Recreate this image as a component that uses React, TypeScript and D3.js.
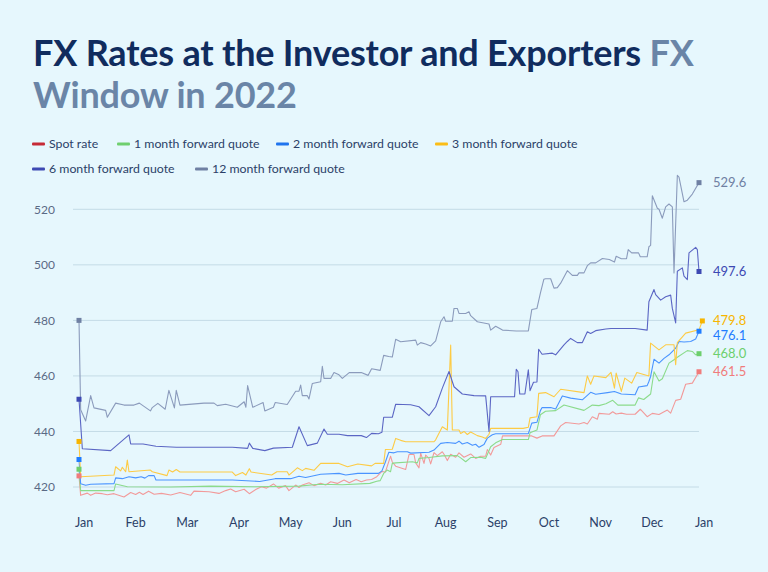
import React from "react";
import * as d3 from "d3";

type Pt = [string, number];

// FX rates (NGN/USD) by quote tenor
const spotRate: Pt[] = [
  ["2021-12-29", 424], ["2021-12-30", 417], ["2022-01-03", 417.8], ["2022-01-05", 417], ["2022-01-08", 417.8],
  ["2022-01-12", 417.6], ["2022-01-15", 417.2], ["2022-01-19", 417.6], ["2022-01-25", 416.4], ["2022-01-29", 418],
  ["2022-02-01", 417.3], ["2022-02-03", 418.1], ["2022-02-05", 417.3], ["2022-02-08", 418.5], ["2022-02-11", 417.4],
  ["2022-02-15", 417.7], ["2022-02-20", 417.1], ["2022-02-25", 418], ["2022-03-03", 417], ["2022-03-05", 418.5],
  ["2022-03-14", 418.3], ["2022-03-20", 417.7], ["2022-03-24", 418.7], ["2022-03-27", 419.3], ["2022-03-30", 418.3],
  ["2022-04-04", 419.2], ["2022-04-07", 417.6], ["2022-04-11", 419.2], ["2022-04-14", 420.1], ["2022-04-17", 419.6],
  ["2022-04-21", 421.1], ["2022-04-24", 419.6], ["2022-04-28", 420.5], ["2022-04-30", 418.7], ["2022-05-04", 420.7],
  ["2022-05-06", 419.8], ["2022-05-08", 420.7], ["2022-05-12", 421.5], ["2022-05-15", 420.5], ["2022-05-19", 421.3],
  ["2022-05-22", 420.7], ["2022-05-25", 421.9], ["2022-05-29", 421.3], ["2022-06-02", 422.5], ["2022-06-05", 421.5],
  ["2022-06-09", 422.7], ["2022-06-12", 421.9], ["2022-06-15", 422.5], ["2022-06-18", 422.7], ["2022-06-21", 423.7],
  ["2022-06-24", 425.6], ["2022-06-26", 425.4], ["2022-06-29", 431.1], ["2022-06-30", 429], ["2022-07-02", 427.5],
  ["2022-07-08", 426.3], ["2022-07-10", 431.7], ["2022-07-13", 431.7], ["2022-07-14", 428.7], ["2022-07-16", 426.9],
  ["2022-07-17", 432.2], ["2022-07-19", 428.5], ["2022-07-20", 431.5], ["2022-07-22", 430.3], ["2022-07-23", 428.3],
  ["2022-07-25", 432.4], ["2022-07-27", 431.3], ["2022-07-30", 432.7], ["2022-07-31", 431.8], ["2022-08-02", 429.5],
  ["2022-08-04", 431.8], ["2022-08-07", 430.7], ["2022-08-09", 432.3], ["2022-08-12", 430.7], ["2022-08-16", 431.9],
  ["2022-08-19", 430.3], ["2022-08-22", 431.1], ["2022-08-25", 431.1], ["2022-08-26", 433.5], ["2022-08-28", 431.5],
  ["2022-08-30", 434.2], ["2022-09-03", 435.4], ["2022-09-04", 438.4], ["2022-09-21", 438.4], ["2022-09-24", 437.6],
  ["2022-09-27", 438.4], ["2022-10-04", 438.4], ["2022-10-08", 442], ["2022-10-11", 443.2], ["2022-10-19", 442.7],
  ["2022-10-22", 443.2], ["2022-10-24", 442.7], ["2022-10-27", 445.3], ["2022-10-30", 444.4], ["2022-10-31", 446.5],
  ["2022-11-06", 446.2], ["2022-11-08", 447.1], ["2022-11-10", 446.3], ["2022-11-13", 446.6], ["2022-11-16", 446.2],
  ["2022-11-21", 446.2], ["2022-11-24", 448], ["2022-11-28", 445.3], ["2022-12-01", 446.5], ["2022-12-05", 446.1],
  ["2022-12-10", 447.7], ["2022-12-12", 446.6], ["2022-12-15", 451.2], ["2022-12-18", 451.6], ["2022-12-21", 457],
  ["2022-12-25", 457.4], ["2022-12-29", 461.5],
];

const oneMonth: Pt[] = [
  ["2021-12-29", 426.4], ["2021-12-30", 418.7], ["2022-01-19", 418.7], ["2022-01-20", 421.1], ["2022-01-27", 420.1],
  ["2022-02-20", 420], ["2022-03-15", 420.3], ["2022-04-10", 420.1], ["2022-05-06", 420.3], ["2022-05-18", 421],
  ["2022-06-01", 420.8], ["2022-06-17", 421.3], ["2022-06-21", 422.1], ["2022-06-23", 422.3], ["2022-06-25", 424.9],
  ["2022-06-27", 426.1], ["2022-06-29", 425.5], ["2022-06-30", 428.5], ["2022-07-02", 428.7], ["2022-07-12", 429.1],
  ["2022-07-15", 428.7], ["2022-07-16", 430.3], ["2022-07-22", 430.6], ["2022-07-30", 431.2], ["2022-08-08", 431.3],
  ["2022-08-10", 430.5], ["2022-08-13", 429.1], ["2022-08-16", 430.6], ["2022-08-22", 430.7], ["2022-08-25", 430.3],
  ["2022-08-28", 434.5], ["2022-08-31", 435.9], ["2022-09-04", 437.1], ["2022-09-19", 437.1], ["2022-09-20", 439.5],
  ["2022-09-24", 440.5], ["2022-09-26", 446], ["2022-09-29", 447.3], ["2022-10-05", 447.5], ["2022-10-10", 449.5],
  ["2022-10-22", 447.6], ["2022-10-27", 449.5], ["2022-10-31", 449.3], ["2022-11-04", 450], ["2022-11-08", 451.2],
  ["2022-11-11", 449.5], ["2022-11-21", 449.5], ["2022-11-23", 452.1], ["2022-11-26", 451.5], ["2022-11-30", 453.5],
  ["2022-12-02", 461.5], ["2022-12-05", 458.2], ["2022-12-07", 459], ["2022-12-11", 464.6], ["2022-12-14", 465.8],
  ["2022-12-16", 466.7], ["2022-12-22", 469.1], ["2022-12-25", 468.8], ["2022-12-27", 467.6], ["2022-12-29", 468.0],
];

const twoMonth: Pt[] = [
  ["2021-12-29", 429.9], ["2021-12-30", 421.2], ["2022-01-02", 420.6], ["2022-01-05", 421], ["2022-01-19", 421.2],
  ["2022-01-20", 423.3], ["2022-01-24", 423], ["2022-01-28", 423.7], ["2022-02-01", 423.3], ["2022-02-04", 423.7],
  ["2022-02-06", 423.2], ["2022-02-08", 424.1], ["2022-02-11", 424.1], ["2022-02-12", 422.5], ["2022-03-28", 422.5],
  ["2022-04-13", 422], ["2022-04-22", 423], ["2022-05-01", 423], ["2022-05-06", 423.9], ["2022-05-10", 423.4],
  ["2022-05-19", 424.6], ["2022-05-30", 424.9], ["2022-06-03", 424.3], ["2022-06-10", 424.9], ["2022-06-22", 424.9],
  ["2022-06-24", 425.8], ["2022-06-26", 429], ["2022-06-28", 432.5], ["2022-07-01", 432.3], ["2022-07-03", 432.7],
  ["2022-07-09", 432.7], ["2022-07-11", 432.2], ["2022-07-22", 432.5], ["2022-07-25", 433.3], ["2022-07-29", 435.7],
  ["2022-08-02", 436], ["2022-08-07", 435.7], ["2022-08-09", 436.5], ["2022-08-11", 435.5], ["2022-08-14", 436],
  ["2022-08-17", 435], ["2022-08-19", 435.4], ["2022-08-21", 434.3], ["2022-08-24", 435.3], ["2022-08-26", 437.6],
  ["2022-08-29", 438.8], ["2022-08-31", 439.2], ["2022-09-19", 439.2], ["2022-09-21", 443], ["2022-09-24", 443.3],
  ["2022-09-26", 447.5], ["2022-09-27", 448.6], ["2022-10-02", 448.6], ["2022-10-05", 448.1], ["2022-10-09", 452.8],
  ["2022-10-14", 452], ["2022-10-21", 451.4], ["2022-10-26", 454.1], ["2022-10-29", 453.4], ["2022-11-05", 454],
  ["2022-11-09", 454.4], ["2022-11-13", 453.5], ["2022-11-21", 453.2], ["2022-11-23", 456], ["2022-11-28", 456.5],
  ["2022-11-29", 458], ["2022-11-30", 459.8], ["2022-12-02", 466], ["2022-12-05", 464.6], ["2022-12-08", 466.3],
  ["2022-12-11", 467.6], ["2022-12-15", 470], ["2022-12-17", 472.4], ["2022-12-20", 472.2], ["2022-12-24", 472.4],
  ["2022-12-27", 473.3], ["2022-12-29", 476.1],
];

const threeMonth: Pt[] = [
  ["2021-12-29", 436.4], ["2021-12-30", 423.7], ["2022-01-19", 424.3], ["2022-01-20", 427.3], ["2022-01-23", 425.8],
  ["2022-01-24", 427.1], ["2022-01-26", 425.5], ["2022-01-27", 429.7], ["2022-01-28", 425.5], ["2022-02-09", 426.1],
  ["2022-02-10", 425.5], ["2022-02-18", 424.1], ["2022-02-19", 426.1], ["2022-02-21", 425.4], ["2022-02-23", 426.3],
  ["2022-02-25", 425.4], ["2022-03-28", 425.4], ["2022-03-30", 424.1], ["2022-04-03", 425.2], ["2022-04-05", 424.3],
  ["2022-04-07", 426.6], ["2022-04-08", 425.4], ["2022-04-20", 424.3], ["2022-04-23", 425.5], ["2022-04-29", 425.5],
  ["2022-04-30", 424.3], ["2022-05-05", 426.9], ["2022-05-08", 425.9], ["2022-05-10", 426.7], ["2022-05-15", 426],
  ["2022-05-19", 428.5], ["2022-05-30", 428.5], ["2022-06-04", 427.3], ["2022-06-10", 428.3], ["2022-06-18", 427.6],
  ["2022-06-20", 428.5], ["2022-06-25", 428.5], ["2022-06-26", 433.5], ["2022-06-30", 433.6], ["2022-07-02", 437.5],
  ["2022-07-05", 436.8], ["2022-07-08", 436.3], ["2022-07-25", 436.3], ["2022-07-26", 437], ["2022-07-30", 441.7],
  ["2022-08-02", 440.5], ["2022-08-04", 471.1], ["2022-08-05", 440.5], ["2022-08-09", 440.5], ["2022-08-10", 439.3],
  ["2022-08-12", 440], ["2022-08-14", 438.9], ["2022-08-16", 439.8], ["2022-08-20", 438.5], ["2022-08-23", 438],
  ["2022-08-25", 437.5], ["2022-08-27", 439], ["2022-08-28", 441.1], ["2022-09-16", 441.1], ["2022-09-19", 441.5],
  ["2022-09-20", 444.9], ["2022-09-24", 445.3], ["2022-09-25", 453.7], ["2022-09-29", 454], ["2022-10-04", 452.5],
  ["2022-10-08", 455.2], ["2022-10-22", 454], ["2022-10-24", 460], ["2022-10-26", 457], ["2022-10-28", 460],
  ["2022-11-04", 459.4], ["2022-11-07", 461.3], ["2022-11-09", 455.6], ["2022-11-10", 461], ["2022-11-13", 454.4],
  ["2022-11-15", 459.2], ["2022-11-19", 457.4], ["2022-11-22", 461.2], ["2022-11-29", 460], ["2022-11-30", 471.8],
  ["2022-12-05", 469.4], ["2022-12-09", 471.2], ["2022-12-14", 471.2], ["2022-12-15", 464], ["2022-12-16", 472],
  ["2022-12-21", 475.4], ["2022-12-29", 476.6], ["2022-12-31", 479.8],
];

const sixMonth: Pt[] = [
  ["2021-12-29", 451.6], ["2021-12-31", 433.8], ["2022-01-17", 433.1], ["2022-01-28", 438.8], ["2022-01-29", 435.5],
  ["2022-02-05", 435.5], ["2022-02-12", 434.7], ["2022-02-23", 434.3], ["2022-03-28", 434.3], ["2022-04-06", 433.9],
  ["2022-04-07", 435.8], ["2022-04-09", 433.9], ["2022-04-16", 433.1], ["2022-04-21", 434], ["2022-05-02", 434.3],
  ["2022-05-06", 441.7], ["2022-05-11", 434.9], ["2022-05-17", 435.8], ["2022-05-21", 440.9], ["2022-05-23", 439],
  ["2022-05-30", 439], ["2022-06-04", 438.5], ["2022-06-12", 438.5], ["2022-06-15", 437.8], ["2022-06-18", 439.3],
  ["2022-06-22", 439.2], ["2022-06-24", 439.7], ["2022-06-25", 445.1], ["2022-06-30", 445.1], ["2022-07-02", 449.8],
  ["2022-07-11", 449.6], ["2022-07-16", 448.9], ["2022-07-22", 445.7], ["2022-07-26", 448.9], ["2022-07-30", 455.6],
  ["2022-08-03", 461.6], ["2022-08-06", 456.1], ["2022-08-11", 453.5], ["2022-08-18", 452.9], ["2022-08-25", 452.8],
  ["2022-08-27", 440], ["2022-08-28", 452.5], ["2022-09-11", 452.5], ["2022-09-12", 462.4], ["2022-09-13", 461.5],
  ["2022-09-14", 453.5], ["2022-09-17", 453.5], ["2022-09-19", 462.2], ["2022-09-20", 454.7], ["2022-09-22", 457.7],
  ["2022-09-24", 457.8], ["2022-09-25", 469.6], ["2022-09-27", 467.8], ["2022-10-03", 468.2], ["2022-10-05", 467.6],
  ["2022-10-10", 471.2], ["2022-10-12", 472.4], ["2022-10-14", 473.5], ["2022-10-18", 472], ["2022-10-21", 472],
  ["2022-10-24", 475.9], ["2022-10-26", 475.3], ["2022-10-29", 476.3], ["2022-11-04", 476.9], ["2022-11-07", 477.1],
  ["2022-11-21", 477.1], ["2022-11-28", 476.5], ["2022-11-29", 486.7], ["2022-12-02", 491.1], ["2022-12-03", 489.3],
  ["2022-12-06", 487.3], ["2022-12-09", 488.5], ["2022-12-12", 489.1], ["2022-12-13", 484.3], ["2022-12-15", 479.1],
  ["2022-12-16", 497.7], ["2022-12-19", 498.9], ["2022-12-20", 495.9], ["2022-12-22", 494.7], ["2022-12-23", 504.3],
  ["2022-12-27", 506.3], ["2022-12-28", 505.5], ["2022-12-29", 497.6],
];

const twelveMonth: Pt[] = [
  ["2021-12-29", 480], ["2021-12-30", 447.8], ["2022-01-02", 443.8], ["2022-01-05", 452.9], ["2022-01-07", 448.5],
  ["2022-01-14", 447.6], ["2022-01-15", 445.1], ["2022-01-20", 450.2], ["2022-01-25", 449.5], ["2022-01-31", 449.5],
  ["2022-02-03", 450.2], ["2022-02-09", 447.4], ["2022-02-10", 448.6], ["2022-02-13", 450.1], ["2022-02-17", 448],
  ["2022-02-19", 454.8], ["2022-02-22", 448.5], ["2022-02-23", 454.8], ["2022-02-25", 449.5], ["2022-03-11", 450.2],
  ["2022-03-17", 450.2], ["2022-03-19", 449.3], ["2022-03-24", 449.8], ["2022-03-31", 448.7], ["2022-04-04", 450.7],
  ["2022-04-05", 448.7], ["2022-04-06", 456.5], ["2022-04-09", 448.7], ["2022-04-15", 450.4], ["2022-04-16", 447.4],
  ["2022-04-21", 448.7], ["2022-04-22", 450.4], ["2022-04-29", 449.7], ["2022-05-04", 454.5], ["2022-05-06", 454.5],
  ["2022-05-07", 456.7], ["2022-05-08", 452.9], ["2022-05-11", 452.9], ["2022-05-12", 451.7], ["2022-05-14", 457.3],
  ["2022-05-19", 457.9], ["2022-05-20", 463.5], ["2022-05-21", 459.1], ["2022-05-25", 459.1], ["2022-05-27", 461.2],
  ["2022-05-30", 460.4], ["2022-06-01", 459.1], ["2022-06-05", 461.2], ["2022-06-12", 461.2], ["2022-06-16", 460.2],
  ["2022-06-18", 462.6], ["2022-06-23", 462], ["2022-06-25", 467.4], ["2022-06-28", 467], ["2022-06-30", 466.8],
  ["2022-07-02", 473.2], ["2022-07-05", 472.3], ["2022-07-14", 472.9], ["2022-07-15", 471.1], ["2022-07-17", 472],
  ["2022-07-20", 471.5], ["2022-07-23", 470.8], ["2022-07-26", 472.6], ["2022-07-29", 479.5], ["2022-07-31", 481.3],
  ["2022-08-01", 479.7], ["2022-08-05", 479.7], ["2022-08-06", 484.3], ["2022-08-08", 484.3], ["2022-08-09", 482.5],
  ["2022-08-13", 482.5], ["2022-08-15", 483.1], ["2022-08-16", 481.7], ["2022-08-20", 479.5], ["2022-08-27", 478.7],
  ["2022-08-28", 476.5], ["2022-08-31", 477.9], ["2022-09-04", 476.5], ["2022-09-12", 476.2], ["2022-09-19", 476.2],
  ["2022-09-21", 483.9], ["2022-09-24", 484.3], ["2022-09-26", 489.8], ["2022-09-28", 494.8], ["2022-09-29", 495],
  ["2022-10-02", 495], ["2022-10-04", 491.6], ["2022-10-06", 491.8], ["2022-10-08", 493.4], ["2022-10-12", 497.9],
  ["2022-10-15", 496.2], ["2022-10-18", 496.2], ["2022-10-19", 497.1], ["2022-10-22", 497.1], ["2022-10-24", 499.7],
  ["2022-10-26", 500.7], ["2022-10-29", 500.7], ["2022-11-02", 502.3], ["2022-11-06", 501.9], ["2022-11-09", 501],
  ["2022-11-10", 503.1], ["2022-11-13", 502.2], ["2022-11-16", 502.2], ["2022-11-17", 505.5], ["2022-11-19", 504.3],
  ["2022-11-23", 504.3], ["2022-11-24", 502.9], ["2022-11-28", 502.9], ["2022-11-29", 506.5], ["2022-11-30", 507],
  ["2022-12-01", 524.9], ["2022-12-04", 520.4], ["2022-12-05", 520], ["2022-12-07", 516.8], ["2022-12-09", 520.9],
  ["2022-12-11", 521.9], ["2022-12-13", 520.9], ["2022-12-14", 497.1], ["2022-12-16", 532.2], ["2022-12-17", 531.6],
  ["2022-12-20", 522.7], ["2022-12-22", 523.3], ["2022-12-25", 525.5], ["2022-12-29", 529.6],
];

const seriesNames = [
  "Spot rate",
  "1 month forward quote",
  "2 month forward quote",
  "3 month forward quote",
  "6 month forward quote",
  "12 month forward quote",
];
const seriesData = [spotRate, oneMonth, twoMonth, threeMonth, sixMonth, twelveMonth];

const monthLabels = ["Jan", "Feb", "Mar", "Apr", "May", "Jun", "Jul", "Aug", "Sep", "Oct", "Nov", "Dec", "Jan"];
const yTicks = [420, 440, 460, 480, 500, 520];

// swatch / line / label colours per series
const palette = [
  { swatch: "#c62a36", line: "#f29a9a", label: "#f07c7c" },
  { swatch: "#6fcf6f", line: "#8bdb8b", label: "#6dcf6d" },
  { swatch: "#1f74ee", line: "#4a94ff", label: "#1f7cff" },
  { swatch: "#fbbd16", line: "#fdcb45", label: "#f7b500" },
  { swatch: "#3d49b3", line: "#5b66c4", label: "#3d49b3" },
  { swatch: "#6f80a3", line: "#8b9bbc", label: "#6f80a3" },
];

// legend rows (x offsets)
const legendLayout = [
  { x: 32, y: 144 }, { x: 117, y: 144 }, { x: 276, y: 144 }, { x: 435, y: 144 },
  { x: 32, y: 169 }, { x: 195, y: 169 },
];

const W = 768;
const H = 572;
const parse = d3.timeParse("%Y-%m-%d");

// months are spaced evenly on the axis, days fill each month proportionally
function monthPos(s: string): number {
  const d = parse(s) as Date;
  const yr = d.getFullYear();
  const m = d.getMonth();
  const days = new Date(yr, m + 1, 0).getDate();
  return (yr - 2022) * 12 + m + (d.getDate() - 1) / days;
}

export default function App() {
  const x = d3.scaleLinear().domain([0, 12]).range([84, 704]);
  const y = d3.scaleLinear().domain([420, 520]).range([487, 209.3]);

  const line = d3
    .line<Pt>()
    .x((d) => x(monthPos(d[0])))
    .y((d) => y(d[1]));

  // end labels, nudged apart when they collide
  const ends = seriesData
    .map((s, i) => ({ i, v: s[s.length - 1][1], yy: y(s[s.length - 1][1]) }))
    .sort((a, b) => a.yy - b.yy);
  for (let k = 1; k < ends.length; k++) {
    if (ends[k].yy - ends[k - 1].yy < 15) ends[k].yy = ends[k - 1].yy + 15;
  }

  const font = "Lato, 'Noto Sans', sans-serif";

  return (
    <svg
      width={W}
      height={H}
      viewBox={`0 0 ${W} ${H}`}
      style={{ position: "absolute", left: 0, top: 0, fontFamily: font }}
    >
      <rect width={W} height={H} fill="#e6f7fd" />

      <text x={33} y={66} fontSize={36} fontWeight={700} fill="#102c5e" letterSpacing={-0.2}>
        FX Rates at the Investor and Exporters <tspan fill="#6a85a7">FX</tspan>
      </text>
      <text x={33} y={108} fontSize={36} fontWeight={700} fill="#6a85a7" letterSpacing={-0.2}>
        Window in 2022
      </text>

      <g>
        {seriesNames.map((name, i) => (
          <g key={name} transform={`translate(${legendLayout[i].x},${legendLayout[i].y})`}>
            <rect x={0} y={-1.5} width={13} height={3} rx={1} fill={palette[i].swatch} />
            <text x={17} y={0} dy="0.35em" fontSize={12.3} fill="#2b3f68">
              {name}
            </text>
          </g>
        ))}
      </g>

      <g>
        {yTicks.map((t) => (
          <g key={t}>
            <line x1={73} x2={699} y1={y(t)} y2={y(t)} stroke="#c4dbe6" strokeWidth={1} />
            <text x={34} y={y(t)} dy="0.35em" fontSize={12} fill="#5a6a85">
              {t}
            </text>
          </g>
        ))}
      </g>

      <g>
        {monthLabels.map((m, i) => (
          <text key={i} x={x(i)} y={523} dy="0.35em" textAnchor="middle" fontSize={12.5} fill="#2b3f68">
            {m}
          </text>
        ))}
      </g>

      <g fill="none" strokeLinejoin="round">
        {seriesData.map((s, i) => (
          <path key={i} d={line(s) || ""} stroke={palette[i].line} strokeWidth={1.1} />
        ))}
      </g>

      <g>
        {seriesData.map((s, i) => {
          const first = s[0];
          const last = s[s.length - 1];
          return (
            <g key={i} fill={palette[i].label}>
              <rect x={x(monthPos(first[0])) - 2.5} y={y(first[1]) - 2.5} width={5} height={5} />
              <rect x={x(monthPos(last[0])) - 2.5} y={y(last[1]) - 2.5} width={5} height={5} />
            </g>
          );
        })}
      </g>

      <g>
        {ends.map((e) => (
          <text key={e.i} x={713} y={e.yy} dy="0.35em" fontSize={13} fill={palette[e.i].label}>
            {d3.format(".1f")(e.v)}
          </text>
        ))}
      </g>
    </svg>
  );
}
